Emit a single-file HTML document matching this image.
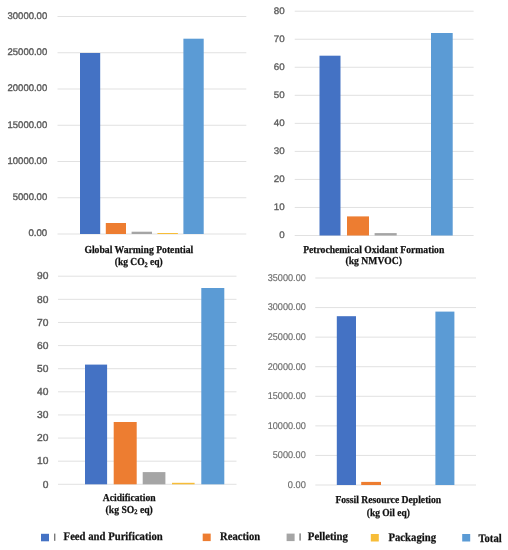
<!DOCTYPE html>
<html><head><meta charset="utf-8"><title>LCA impact charts</title>
<style>
html,body{margin:0;padding:0;background:#fff;}
body{width:508px;height:550px;overflow:hidden;}
svg{display:block;filter:blur(0.35px);} text{text-rendering:geometricPrecision;}
</style></head>
<body>
<svg width="508" height="550" viewBox="0 0 508 550">
<rect width="508" height="550" fill="#fff"/>
<rect x="57.50" y="233.50" width="188.80" height="1" fill="#E1E1E1"/>
<text x="47.20" y="236.36" font-size="9.6" text-anchor="end" font-family='"Liberation Sans", Arial, sans-serif' fill="#585858" font-weight="normal" textLength="18.79" lengthAdjust="spacingAndGlyphs" stroke="#585858" stroke-width="0.35">0.00</text>
<rect x="57.50" y="197.25" width="188.80" height="1" fill="#E1E1E1"/>
<text x="47.20" y="200.11" font-size="9.6" text-anchor="end" font-family='"Liberation Sans", Arial, sans-serif' fill="#585858" font-weight="normal" textLength="34.45" lengthAdjust="spacingAndGlyphs" stroke="#585858" stroke-width="0.35">5000.00</text>
<rect x="57.50" y="161.00" width="188.80" height="1" fill="#E1E1E1"/>
<text x="47.20" y="163.86" font-size="9.6" text-anchor="end" font-family='"Liberation Sans", Arial, sans-serif' fill="#585858" font-weight="normal" textLength="39.67" lengthAdjust="spacingAndGlyphs" stroke="#585858" stroke-width="0.35">10000.00</text>
<rect x="57.50" y="124.75" width="188.80" height="1" fill="#E1E1E1"/>
<text x="47.20" y="127.61" font-size="9.6" text-anchor="end" font-family='"Liberation Sans", Arial, sans-serif' fill="#585858" font-weight="normal" textLength="39.67" lengthAdjust="spacingAndGlyphs" stroke="#585858" stroke-width="0.35">15000.00</text>
<rect x="57.50" y="88.50" width="188.80" height="1" fill="#E1E1E1"/>
<text x="47.20" y="91.36" font-size="9.6" text-anchor="end" font-family='"Liberation Sans", Arial, sans-serif' fill="#585858" font-weight="normal" textLength="39.67" lengthAdjust="spacingAndGlyphs" stroke="#585858" stroke-width="0.35">20000.00</text>
<rect x="57.50" y="52.25" width="188.80" height="1" fill="#E1E1E1"/>
<text x="47.20" y="55.11" font-size="9.6" text-anchor="end" font-family='"Liberation Sans", Arial, sans-serif' fill="#585858" font-weight="normal" textLength="39.67" lengthAdjust="spacingAndGlyphs" stroke="#585858" stroke-width="0.35">25000.00</text>
<rect x="57.50" y="16.00" width="188.80" height="1" fill="#E1E1E1"/>
<text x="47.20" y="18.86" font-size="9.6" text-anchor="end" font-family='"Liberation Sans", Arial, sans-serif' fill="#585858" font-weight="normal" textLength="39.67" lengthAdjust="spacingAndGlyphs" stroke="#585858" stroke-width="0.35">30000.00</text>
<rect x="80.00" y="53.00" width="20.20" height="181.00" fill="#4472C4"/>
<rect x="105.80" y="223.00" width="20.20" height="11.00" fill="#ED7D31"/>
<rect x="131.60" y="231.70" width="20.40" height="2.30" fill="#A5A5A5"/>
<rect x="157.40" y="233.00" width="20.50" height="1.00" fill="#F7BD38"/>
<rect x="183.40" y="38.70" width="20.30" height="195.30" fill="#5B9BD5"/>
<text x="138.80" y="253.40" font-size="10.6" text-anchor="middle" font-family='"Liberation Serif", "Times New Roman", serif' fill="#111" font-weight="bold" textLength="108.80" lengthAdjust="spacingAndGlyphs" stroke="#111" stroke-width="0.25">Global Warming Potential</text>
<text x="138.80" y="265.30" font-size="10.6" text-anchor="middle" font-family='"Liberation Serif", "Times New Roman", serif' fill="#111" font-weight="bold" textLength="48.00" lengthAdjust="spacingAndGlyphs" stroke="#111" stroke-width="0.25">(kg CO<tspan font-size="7" dy="1.3">2</tspan><tspan dy="-1.3"> eq)</tspan></text>
<rect x="294.70" y="235.00" width="178.90" height="1" fill="#E1E1E1"/>
<text x="284.70" y="237.92" font-size="9.5" text-anchor="end" font-family='"Liberation Sans", Arial, sans-serif' fill="#5a5a5a" font-weight="normal" textLength="5.45" lengthAdjust="spacingAndGlyphs" stroke="#5a5a5a" stroke-width="0.3">0</text>
<rect x="294.70" y="206.96" width="178.90" height="1" fill="#E1E1E1"/>
<text x="284.70" y="209.89" font-size="9.5" text-anchor="end" font-family='"Liberation Sans", Arial, sans-serif' fill="#5a5a5a" font-weight="normal" textLength="10.90" lengthAdjust="spacingAndGlyphs" stroke="#5a5a5a" stroke-width="0.3">10</text>
<rect x="294.70" y="178.93" width="178.90" height="1" fill="#E1E1E1"/>
<text x="284.70" y="181.85" font-size="9.5" text-anchor="end" font-family='"Liberation Sans", Arial, sans-serif' fill="#5a5a5a" font-weight="normal" textLength="10.90" lengthAdjust="spacingAndGlyphs" stroke="#5a5a5a" stroke-width="0.3">20</text>
<rect x="294.70" y="150.89" width="178.90" height="1" fill="#E1E1E1"/>
<text x="284.70" y="153.81" font-size="9.5" text-anchor="end" font-family='"Liberation Sans", Arial, sans-serif' fill="#5a5a5a" font-weight="normal" textLength="10.90" lengthAdjust="spacingAndGlyphs" stroke="#5a5a5a" stroke-width="0.3">30</text>
<rect x="294.70" y="122.85" width="178.90" height="1" fill="#E1E1E1"/>
<text x="284.70" y="125.77" font-size="9.5" text-anchor="end" font-family='"Liberation Sans", Arial, sans-serif' fill="#5a5a5a" font-weight="normal" textLength="10.90" lengthAdjust="spacingAndGlyphs" stroke="#5a5a5a" stroke-width="0.3">40</text>
<rect x="294.70" y="94.81" width="178.90" height="1" fill="#E1E1E1"/>
<text x="284.70" y="97.74" font-size="9.5" text-anchor="end" font-family='"Liberation Sans", Arial, sans-serif' fill="#5a5a5a" font-weight="normal" textLength="10.90" lengthAdjust="spacingAndGlyphs" stroke="#5a5a5a" stroke-width="0.3">50</text>
<rect x="294.70" y="66.77" width="178.90" height="1" fill="#E1E1E1"/>
<text x="284.70" y="69.70" font-size="9.5" text-anchor="end" font-family='"Liberation Sans", Arial, sans-serif' fill="#5a5a5a" font-weight="normal" textLength="10.90" lengthAdjust="spacingAndGlyphs" stroke="#5a5a5a" stroke-width="0.3">60</text>
<rect x="294.70" y="38.74" width="178.90" height="1" fill="#E1E1E1"/>
<text x="284.70" y="41.66" font-size="9.5" text-anchor="end" font-family='"Liberation Sans", Arial, sans-serif' fill="#5a5a5a" font-weight="normal" textLength="10.90" lengthAdjust="spacingAndGlyphs" stroke="#5a5a5a" stroke-width="0.3">70</text>
<rect x="294.70" y="10.70" width="178.90" height="1" fill="#E1E1E1"/>
<text x="284.70" y="13.62" font-size="9.5" text-anchor="end" font-family='"Liberation Sans", Arial, sans-serif' fill="#5a5a5a" font-weight="normal" textLength="10.90" lengthAdjust="spacingAndGlyphs" stroke="#5a5a5a" stroke-width="0.3">80</text>
<rect x="319.50" y="55.70" width="21.00" height="179.80" fill="#4472C4"/>
<rect x="347.00" y="216.40" width="22.00" height="19.10" fill="#ED7D31"/>
<rect x="374.60" y="233.10" width="22.10" height="2.40" fill="#A5A5A5"/>
<rect x="431.00" y="33.00" width="21.70" height="202.50" fill="#5B9BD5"/>
<text x="373.70" y="253.00" font-size="10.6" text-anchor="middle" font-family='"Liberation Serif", "Times New Roman", serif' fill="#111" font-weight="bold" textLength="141.10" lengthAdjust="spacingAndGlyphs" stroke="#111" stroke-width="0.25">Petrochemical Oxidant Formation</text>
<text x="373.70" y="264.40" font-size="10.6" text-anchor="middle" font-family='"Liberation Serif", "Times New Roman", serif' fill="#111" font-weight="bold" textLength="56.30" lengthAdjust="spacingAndGlyphs" stroke="#111" stroke-width="0.25">(kg NMVOC)</text>
<rect x="58.00" y="483.80" width="178.50" height="1" fill="#E1E1E1"/>
<text x="48.40" y="487.57" font-size="10.2" text-anchor="end" font-family='"Liberation Sans", Arial, sans-serif' fill="#5a5a5a" font-weight="normal" textLength="5.70" lengthAdjust="spacingAndGlyphs" stroke="#5a5a5a" stroke-width="0.4">0</text>
<rect x="58.00" y="460.68" width="178.50" height="1" fill="#E1E1E1"/>
<text x="48.40" y="464.45" font-size="10.2" text-anchor="end" font-family='"Liberation Sans", Arial, sans-serif' fill="#5a5a5a" font-weight="normal" textLength="11.40" lengthAdjust="spacingAndGlyphs" stroke="#5a5a5a" stroke-width="0.4">10</text>
<rect x="58.00" y="437.56" width="178.50" height="1" fill="#E1E1E1"/>
<text x="48.40" y="441.33" font-size="10.2" text-anchor="end" font-family='"Liberation Sans", Arial, sans-serif' fill="#5a5a5a" font-weight="normal" textLength="11.40" lengthAdjust="spacingAndGlyphs" stroke="#5a5a5a" stroke-width="0.4">20</text>
<rect x="58.00" y="414.43" width="178.50" height="1" fill="#E1E1E1"/>
<text x="48.40" y="418.20" font-size="10.2" text-anchor="end" font-family='"Liberation Sans", Arial, sans-serif' fill="#5a5a5a" font-weight="normal" textLength="11.40" lengthAdjust="spacingAndGlyphs" stroke="#5a5a5a" stroke-width="0.4">30</text>
<rect x="58.00" y="391.31" width="178.50" height="1" fill="#E1E1E1"/>
<text x="48.40" y="395.08" font-size="10.2" text-anchor="end" font-family='"Liberation Sans", Arial, sans-serif' fill="#5a5a5a" font-weight="normal" textLength="11.40" lengthAdjust="spacingAndGlyphs" stroke="#5a5a5a" stroke-width="0.4">40</text>
<rect x="58.00" y="368.19" width="178.50" height="1" fill="#E1E1E1"/>
<text x="48.40" y="371.96" font-size="10.2" text-anchor="end" font-family='"Liberation Sans", Arial, sans-serif' fill="#5a5a5a" font-weight="normal" textLength="11.40" lengthAdjust="spacingAndGlyphs" stroke="#5a5a5a" stroke-width="0.4">50</text>
<rect x="58.00" y="345.07" width="178.50" height="1" fill="#E1E1E1"/>
<text x="48.40" y="348.84" font-size="10.2" text-anchor="end" font-family='"Liberation Sans", Arial, sans-serif' fill="#5a5a5a" font-weight="normal" textLength="11.40" lengthAdjust="spacingAndGlyphs" stroke="#5a5a5a" stroke-width="0.4">60</text>
<rect x="58.00" y="321.94" width="178.50" height="1" fill="#E1E1E1"/>
<text x="48.40" y="325.71" font-size="10.2" text-anchor="end" font-family='"Liberation Sans", Arial, sans-serif' fill="#5a5a5a" font-weight="normal" textLength="11.40" lengthAdjust="spacingAndGlyphs" stroke="#5a5a5a" stroke-width="0.4">70</text>
<rect x="58.00" y="298.82" width="178.50" height="1" fill="#E1E1E1"/>
<text x="48.40" y="302.59" font-size="10.2" text-anchor="end" font-family='"Liberation Sans", Arial, sans-serif' fill="#5a5a5a" font-weight="normal" textLength="11.40" lengthAdjust="spacingAndGlyphs" stroke="#5a5a5a" stroke-width="0.4">80</text>
<rect x="58.00" y="275.70" width="178.50" height="1" fill="#E1E1E1"/>
<text x="48.40" y="279.47" font-size="10.2" text-anchor="end" font-family='"Liberation Sans", Arial, sans-serif' fill="#5a5a5a" font-weight="normal" textLength="11.40" lengthAdjust="spacingAndGlyphs" stroke="#5a5a5a" stroke-width="0.4">90</text>
<rect x="85.00" y="364.60" width="22.10" height="119.70" fill="#4472C4"/>
<rect x="113.70" y="422.00" width="23.00" height="62.30" fill="#ED7D31"/>
<rect x="142.70" y="472.10" width="22.70" height="12.20" fill="#A5A5A5"/>
<rect x="172.00" y="482.80" width="22.60" height="1.50" fill="#F7BD38"/>
<rect x="201.30" y="288.00" width="23.00" height="196.30" fill="#5B9BD5"/>
<text x="129.20" y="500.70" font-size="10.6" text-anchor="middle" font-family='"Liberation Serif", "Times New Roman", serif' fill="#111" font-weight="bold" textLength="52.90" lengthAdjust="spacingAndGlyphs" stroke="#111" stroke-width="0.25">Acidification</text>
<text x="129.20" y="512.90" font-size="10.6" text-anchor="middle" font-family='"Liberation Serif", "Times New Roman", serif' fill="#111" font-weight="bold" textLength="47.20" lengthAdjust="spacingAndGlyphs" stroke="#111" stroke-width="0.25">(kg SO<tspan font-size="7" dy="1.3">2</tspan><tspan dy="-1.3"> eq)</tspan></text>
<rect x="315.30" y="484.50" width="160.70" height="1" fill="#E1E1E1"/>
<text x="305.80" y="487.83" font-size="9.8" text-anchor="end" font-family='"Liberation Sans", Arial, sans-serif' fill="#6a6a6a" font-weight="normal" textLength="18.04" lengthAdjust="spacingAndGlyphs" stroke="#6a6a6a" stroke-width="0.15">0.00</text>
<rect x="315.30" y="454.93" width="160.70" height="1" fill="#E1E1E1"/>
<text x="305.80" y="458.26" font-size="9.8" text-anchor="end" font-family='"Liberation Sans", Arial, sans-serif' fill="#6a6a6a" font-weight="normal" textLength="33.07" lengthAdjust="spacingAndGlyphs" stroke="#6a6a6a" stroke-width="0.15">5000.00</text>
<rect x="315.30" y="425.36" width="160.70" height="1" fill="#E1E1E1"/>
<text x="305.80" y="428.69" font-size="9.8" text-anchor="end" font-family='"Liberation Sans", Arial, sans-serif' fill="#6a6a6a" font-weight="normal" textLength="38.08" lengthAdjust="spacingAndGlyphs" stroke="#6a6a6a" stroke-width="0.15">10000.00</text>
<rect x="315.30" y="395.79" width="160.70" height="1" fill="#E1E1E1"/>
<text x="305.80" y="399.12" font-size="9.8" text-anchor="end" font-family='"Liberation Sans", Arial, sans-serif' fill="#6a6a6a" font-weight="normal" textLength="38.08" lengthAdjust="spacingAndGlyphs" stroke="#6a6a6a" stroke-width="0.15">15000.00</text>
<rect x="315.30" y="366.21" width="160.70" height="1" fill="#E1E1E1"/>
<text x="305.80" y="369.54" font-size="9.8" text-anchor="end" font-family='"Liberation Sans", Arial, sans-serif' fill="#6a6a6a" font-weight="normal" textLength="38.08" lengthAdjust="spacingAndGlyphs" stroke="#6a6a6a" stroke-width="0.15">20000.00</text>
<rect x="315.30" y="336.64" width="160.70" height="1" fill="#E1E1E1"/>
<text x="305.80" y="339.97" font-size="9.8" text-anchor="end" font-family='"Liberation Sans", Arial, sans-serif' fill="#6a6a6a" font-weight="normal" textLength="38.08" lengthAdjust="spacingAndGlyphs" stroke="#6a6a6a" stroke-width="0.15">25000.00</text>
<rect x="315.30" y="307.07" width="160.70" height="1" fill="#E1E1E1"/>
<text x="305.80" y="310.40" font-size="9.8" text-anchor="end" font-family='"Liberation Sans", Arial, sans-serif' fill="#6a6a6a" font-weight="normal" textLength="38.08" lengthAdjust="spacingAndGlyphs" stroke="#6a6a6a" stroke-width="0.15">30000.00</text>
<rect x="315.30" y="277.50" width="160.70" height="1" fill="#E1E1E1"/>
<text x="305.80" y="280.83" font-size="9.8" text-anchor="end" font-family='"Liberation Sans", Arial, sans-serif' fill="#6a6a6a" font-weight="normal" textLength="38.08" lengthAdjust="spacingAndGlyphs" stroke="#6a6a6a" stroke-width="0.15">35000.00</text>
<rect x="336.80" y="316.20" width="19.20" height="168.80" fill="#4472C4"/>
<rect x="361.20" y="481.90" width="19.80" height="3.10" fill="#ED7D31"/>
<rect x="435.40" y="311.60" width="19.00" height="173.40" fill="#5B9BD5"/>
<text x="388.30" y="502.90" font-size="10.6" text-anchor="middle" font-family='"Liberation Serif", "Times New Roman", serif' fill="#111" font-weight="bold" textLength="105.80" lengthAdjust="spacingAndGlyphs" stroke="#111" stroke-width="0.25">Fossil Resource Depletion</text>
<text x="388.30" y="515.80" font-size="10.6" text-anchor="middle" font-family='"Liberation Serif", "Times New Roman", serif' fill="#111" font-weight="bold" textLength="43.10" lengthAdjust="spacingAndGlyphs" stroke="#111" stroke-width="0.25">(kg Oil eq)</text>
<rect x="41.00" y="533.80" width="8.00" height="7.50" fill="#4472C4"/>
<rect x="54.00" y="533.60" width="1.40" height="7.20" fill="#7a7a7a"/>
<text x="63.60" y="540.30" font-size="11.6" text-anchor="start" font-family='"Liberation Serif", "Times New Roman", serif' fill="#111" font-weight="bold" textLength="99.20" lengthAdjust="spacingAndGlyphs" stroke="#111" stroke-width="0.25">Feed and Purification</text>
<rect x="202.70" y="533.60" width="8.00" height="7.50" fill="#ED7D31"/>
<text x="220.10" y="539.60" font-size="11.6" text-anchor="start" font-family='"Liberation Serif", "Times New Roman", serif' fill="#111" font-weight="bold" textLength="40.00" lengthAdjust="spacingAndGlyphs" stroke="#111" stroke-width="0.25">Reaction</text>
<rect x="286.60" y="533.60" width="8.00" height="7.50" fill="#A5A5A5"/>
<rect x="299.40" y="533.40" width="1.40" height="7.20" fill="#7a7a7a"/>
<text x="307.80" y="540.40" font-size="11.6" text-anchor="start" font-family='"Liberation Serif", "Times New Roman", serif' fill="#111" font-weight="bold" textLength="40.20" lengthAdjust="spacingAndGlyphs" stroke="#111" stroke-width="0.25">Pelleting</text>
<rect x="370.80" y="534.00" width="8.00" height="7.50" fill="#F7BD38"/>
<text x="388.50" y="541.00" font-size="11.6" text-anchor="start" font-family='"Liberation Serif", "Times New Roman", serif' fill="#111" font-weight="bold" textLength="47.50" lengthAdjust="spacingAndGlyphs" stroke="#111" stroke-width="0.25">Packaging</text>
<rect x="462.20" y="534.00" width="8.00" height="7.50" fill="#5B9BD5"/>
<text x="478.40" y="542.10" font-size="11.6" text-anchor="start" font-family='"Liberation Serif", "Times New Roman", serif' fill="#111" font-weight="bold" textLength="23.30" lengthAdjust="spacingAndGlyphs" stroke="#111" stroke-width="0.25">Total</text>
</svg>
</body></html>
